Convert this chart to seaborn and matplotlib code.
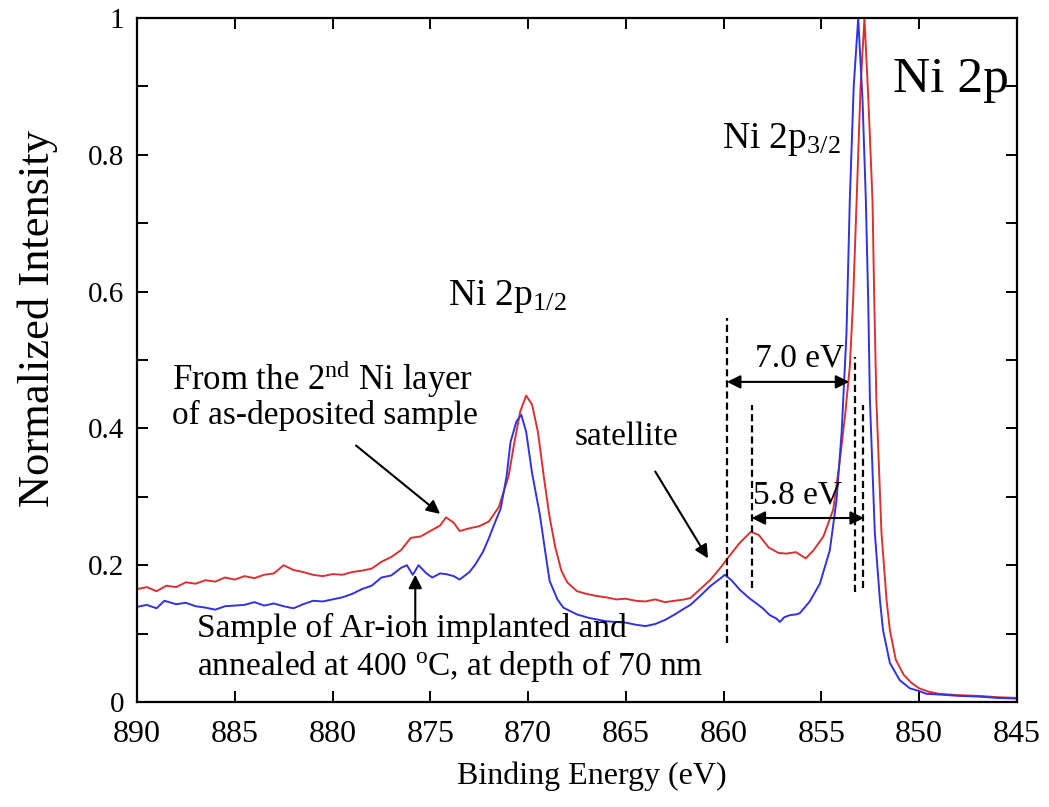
import matplotlib
matplotlib.use("Agg")
import matplotlib.pyplot as plt
from matplotlib.ticker import MultipleLocator, FixedLocator
import pandas as pd
import seaborn as sns

# Ni 2p XPS spectra
red_energy = [890.0, 889.5, 889.0, 888.5, 888.0, 887.5, 887.0, 886.5, 886.0, 885.5,
              885.0, 884.5, 884.0, 883.5, 883.0, 882.5, 882.0, 881.5, 881.0, 880.5,
              880.0, 879.5, 879.0, 878.5, 878.0, 877.5, 877.0, 876.5, 876.0, 875.5,
              875.0, 874.5, 874.2, 873.8, 873.5, 873.0, 872.5, 872.0, 871.5, 871.0,
              870.7, 870.4, 870.1, 869.8, 869.5, 869.2, 868.9, 868.6, 868.3, 868.0,
              867.5, 867.0, 866.5, 866.0, 865.5, 865.0, 864.5, 864.0, 863.5, 863.0,
              862.5, 862.0, 861.7, 861.2, 860.7, 860.2, 859.8, 859.2, 858.6, 858.2,
              857.7, 857.2, 856.8, 856.3, 855.8, 855.4, 854.9, 854.4, 854.1, 853.8,
              853.55, 853.38, 853.2, 853.0, 852.8, 852.6, 852.39, 852.3, 852.19, 851.93,
              851.67, 851.5, 851.2, 850.8, 850.4, 850.0, 849.5, 849.0, 848.5, 848.0,
              847.0, 846.0, 845.0]
red_intensity = [0.165, 0.168, 0.162, 0.170, 0.168, 0.175, 0.173, 0.178, 0.176, 0.182,
                 0.179, 0.184, 0.181, 0.186, 0.188, 0.200, 0.193, 0.190, 0.186, 0.184,
                 0.187, 0.186, 0.190, 0.192, 0.195, 0.205, 0.212, 0.222, 0.240, 0.242,
                 0.250, 0.258, 0.270, 0.262, 0.250, 0.254, 0.257, 0.264, 0.285, 0.330,
                 0.380, 0.425, 0.448, 0.435, 0.395, 0.330, 0.270, 0.225, 0.192, 0.175,
                 0.162, 0.158, 0.155, 0.153, 0.150, 0.151, 0.148, 0.147, 0.150, 0.146,
                 0.148, 0.150, 0.152, 0.165, 0.178, 0.195, 0.210, 0.232, 0.249, 0.244,
                 0.226, 0.218, 0.217, 0.219, 0.210, 0.222, 0.242, 0.281, 0.344, 0.417,
                 0.490, 0.588, 0.734, 0.900, 1.000, 0.880, 0.734, 0.588, 0.440, 0.247,
                 0.149, 0.105, 0.062, 0.040, 0.028, 0.020, 0.015, 0.012, 0.011, 0.010,
                 0.009, 0.007, 0.006]

blue_energy = [890.0, 889.5, 889.0, 888.6, 888.0, 887.5, 887.0, 886.5, 886.0, 885.5,
               885.0, 884.5, 884.0, 883.5, 883.0, 882.5, 882.0, 881.5, 881.0, 880.5,
               880.0, 879.5, 879.0, 878.5, 878.0, 877.5, 877.0, 876.5, 876.2, 875.9,
               875.6, 875.2, 874.9, 874.5, 874.2, 873.8, 873.5, 873.0, 872.7, 872.3,
               872.0, 871.7, 871.4, 871.1, 870.9, 870.6, 870.35, 870.1, 869.8, 869.4,
               869.1, 868.9, 868.5, 868.2, 867.5, 866.9, 866.0, 865.0, 864.5, 864.0,
               863.5, 863.0, 862.5, 862.0, 861.7, 861.2, 860.7, 860.2, 859.94, 859.6,
               859.17, 858.7, 858.32, 858.0, 857.64, 857.3, 857.13, 856.9, 856.61, 856.3,
               856.1, 855.6, 855.08, 854.57, 854.23, 853.97, 853.72, 853.55, 853.35, 853.12,
               852.9, 852.73, 852.61, 852.52, 852.27, 852.01, 851.85, 851.5, 851.0, 850.48,
               850.0, 849.63, 849.0, 848.0, 847.0, 846.0, 845.0]
blue_intensity = [0.139, 0.142, 0.137, 0.148, 0.143, 0.145, 0.140, 0.138, 0.135, 0.140,
                  0.141, 0.142, 0.146, 0.141, 0.144, 0.140, 0.137, 0.143, 0.148, 0.147,
                  0.150, 0.153, 0.158, 0.165, 0.170, 0.182, 0.185, 0.196, 0.200, 0.186,
                  0.200, 0.188, 0.182, 0.188, 0.187, 0.184, 0.179, 0.190, 0.201, 0.220,
                  0.240, 0.262, 0.283, 0.330, 0.380, 0.410, 0.420, 0.395, 0.335, 0.274,
                  0.215, 0.177, 0.150, 0.138, 0.128, 0.123, 0.118, 0.116, 0.113, 0.111,
                  0.114, 0.120, 0.128, 0.137, 0.142, 0.155, 0.169, 0.180, 0.186, 0.178,
                  0.164, 0.152, 0.144, 0.137, 0.127, 0.122, 0.117, 0.124, 0.127, 0.128,
                  0.130, 0.147, 0.173, 0.222, 0.295, 0.393, 0.539, 0.734, 0.900, 1.000,
                  0.880, 0.734, 0.588, 0.440, 0.247, 0.149, 0.105, 0.057, 0.032, 0.020,
                  0.016, 0.012, 0.011, 0.009, 0.008, 0.006, 0.005]

x_ticks = [890, 885, 880, 875, 870, 865, 860, 855, 850, 845]
y_ticks = [0, 0.2, 0.4, 0.6, 0.8, 1.0]
y_tick_labels = ['0', '0.2', '0.4', '0.6', '0.8', '1']

# dashed guide lines (energy, lower end, upper end)
guide_energy = [859.83, 858.57, 853.26, 852.87]
guide_low = [0.086, 0.166, 0.161, 0.166]
guide_high = [0.561, 0.434, 0.505, 0.434]

RED = '#d83232'
BLUE = '#3232e0'

sns.set_style('ticks')
plt.rcParams['font.family'] = ['Liberation Serif', 'DejaVu Serif']
plt.rcParams['mathtext.fontset'] = 'custom'
plt.rcParams['mathtext.rm'] = 'Liberation Serif'
plt.rcParams['mathtext.it'] = 'Liberation Serif:italic'
for key in ['text.color', 'axes.labelcolor', 'xtick.color', 'ytick.color']:
    plt.rcParams[key] = 'black'

red_df = pd.DataFrame({'energy': red_energy, 'intensity': red_intensity})
blue_df = pd.DataFrame({'energy': blue_energy, 'intensity': blue_intensity})

fig = plt.figure(figsize=(10.49, 8.07), dpi=100)
ax = fig.add_axes([0.1306, 0.1301, 0.8389, 0.8476])

sns.lineplot(data=red_df, x='energy', y='intensity', color=RED, lw=1.4,
             estimator=None, ax=ax)
sns.lineplot(data=blue_df, x='energy', y='intensity', color=BLUE, lw=1.4,
             estimator=None, ax=ax)

ax.set_xlim(890, 845)
ax.set_ylim(0, 1)
ax.set_xlabel('')
ax.set_ylabel('')

ax.xaxis.set_major_locator(FixedLocator(x_ticks))
ax.set_xticklabels([str(t) for t in x_ticks], fontsize=23)
ax.yaxis.set_major_locator(FixedLocator(y_ticks))
ax.set_yticklabels(y_tick_labels, fontsize=21)
ax.yaxis.set_minor_locator(MultipleLocator(0.1))
ax.tick_params(which='both', direction='in', top=True, right=True,
               length=8, width=1.4, colors='black')
ax.tick_params(axis='x', pad=13)
ax.tick_params(axis='y', pad=9)
for sp in ax.spines.values():
    sp.set_linewidth(1.6)
    sp.set_color('black')
    sp.set_visible(True)

# dashed guides
for e, lo, hi in zip(guide_energy, guide_low, guide_high):
    ax.plot([e, e], [lo, hi], color='black', lw=1.6, linestyle=(0, (3.2, 1.8)))

# double arrows
dbl = dict(arrowstyle='<|-|>', color='black', lw=1.5, mutation_scale=20,
           shrinkA=0, shrinkB=0)
ax.annotate('', xy=(853.58, 0.468), xytext=(859.83, 0.468), arrowprops=dbl)
ax.annotate('', xy=(852.83, 0.269), xytext=(858.57, 0.269), arrowprops=dbl)

# single arrows
sgl = dict(arrowstyle='-|>', color='black', lw=1.5, mutation_scale=20,
           shrinkA=0, shrinkB=0)
ax.annotate('', xy=(874.5, 0.275), xytext=(878.8, 0.375), arrowprops=sgl)
ax.annotate('', xy=(875.77, 0.186), xytext=(875.77, 0.108), arrowprops=sgl)
ax.annotate('', xy=(860.8, 0.21), xytext=(863.5, 0.337), arrowprops=sgl)

fs = 24
ax.text(851.35, 0.892, 'Ni 2p', fontsize=37, ha='left', va='baseline')
ax.text(860.09, 0.81, r'Ni 2p$_{\mathrm{3/2}}$', fontsize=27, ha='left', va='baseline')
ax.text(874.1, 0.58, r'Ni 2p$_{\mathrm{1/2}}$', fontsize=27, ha='left', va='baseline')
ax.text(867.6, 0.376, 'satellite', fontsize=fs, ha='left', va='baseline')
ax.text(858.4, 0.49, '7.0 eV', fontsize=fs, ha='left', va='baseline')
ax.text(858.5, 0.29, '5.8 eV', fontsize=fs, ha='left', va='baseline')
ax.text(888.2, 0.456, r'From the 2$^{\mathrm{nd}}$ Ni layer', fontsize=25,
        ha='left', va='baseline')
ax.text(888.2, 0.406, 'of as-deposited sample', fontsize=fs, ha='left', va='baseline')
ax.text(886.95, 0.095, 'Sample of Ar-ion implanted and', fontsize=fs,
        ha='left', va='baseline')
ax.text(886.95, 0.039, r'annealed at 400 $^{\mathrm{o}}$C, at depth of 70 nm',
        fontsize=fs, ha='left', va='baseline')

ax.text(0.517, -0.108, 'Binding Energy (eV)', fontsize=23, ha='center',
        va='center', transform=ax.transAxes)
ax.text(-0.113, 0.56, 'Normalized Intensity', fontsize=32, ha='center',
        va='center', rotation=90, transform=ax.transAxes)

fig.savefig('out.png', dpi=100)
